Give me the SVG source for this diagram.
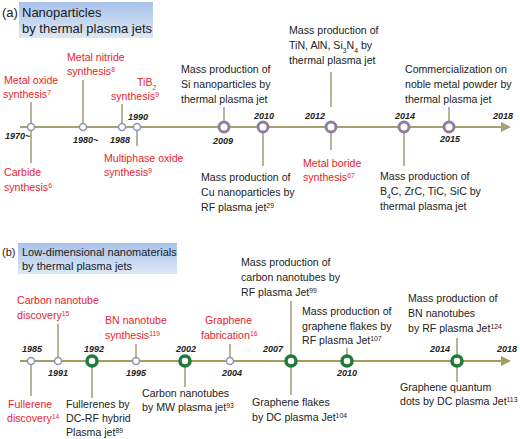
<svg xmlns="http://www.w3.org/2000/svg" width="520" height="439" viewBox="0 0 520 439">
<defs>
<linearGradient id="tg" x1="0" y1="0" x2="0" y2="1">
<stop offset="0" stop-color="#a8c2ea"/>
<stop offset="1" stop-color="#dde8f6"/>
</linearGradient>
<marker id="arrA" viewBox="0 0 10 10" refX="2" refY="5" markerWidth="5" markerHeight="5" orient="auto">
<path d="M0,0 L10,5 L0,10 z" fill="#a89f72"/>
</marker>
<marker id="arrB" viewBox="0 0 10 10" refX="2" refY="5" markerWidth="5" markerHeight="5" orient="auto">
<path d="M0,0 L10,5 L0,10 z" fill="#a39d5e"/>
</marker>
</defs>
<style>
text{font-family:"Liberation Sans",Arial,sans-serif;font-size:10.6px;fill:#222}
.r{fill:#e8232b}
.t{font-size:13px;fill:#1a1a1a}
.tb{font-size:11px;fill:#1a1a1a}
.y{font-size:9px;font-weight:bold;font-style:italic;fill:#222}
.sup{font-size:6.8px;baseline-shift:super}
.sub{font-size:6.8px;baseline-shift:sub}
.ax{stroke-width:2;fill:none}
.vc{stroke:#a8a07f;stroke-width:1.6;fill:none}
.sm{fill:#fff;stroke:#8a95b0;stroke-width:1.5}
.bp{fill:#fff;stroke:#8f7f9d;stroke-width:3}
.bg{fill:#fff;stroke:#1f7a3a;stroke-width:3.5}
</style>

<g id="title-a">
<rect x="19" y="2" width="134" height="36" fill="url(#tg)"/>
<text class="t" x="2" y="17">(a)</text>
<text class="t" x="22" y="17">Nanoparticles</text>
<text class="t" x="22" y="33">by thermal plasma jets</text>
</g>
<g id="title-b">
<rect x="18" y="243" width="159" height="31" fill="url(#tg)"/>
<text class="tb" x="2" y="256">(b)</text>
<text class="tb" x="22" y="256">Low-dimensional nanomaterials</text>
<text class="tb" x="22" y="270">by thermal plasma jets</text>
</g>

<g id="connectors">
<line class="ax" x1="20" y1="127" x2="503" y2="127" stroke="#a89f72" marker-end="url(#arrA)"/>
<line class="ax" x1="20" y1="361" x2="503" y2="361" stroke="#a39d5e" marker-end="url(#arrB)"/>
<line class="vc" x1="31" y1="102" x2="31" y2="124"/>
<line class="vc" x1="83" y1="80" x2="83" y2="124"/>
<line class="vc" x1="122" y1="104" x2="122" y2="124"/>
<line class="vc" x1="224" y1="107" x2="224" y2="122"/>
<line class="vc" x1="331" y1="72" x2="331" y2="107"/>
<line class="vc" x1="449" y1="107" x2="449" y2="122"/>
<line class="vc" x1="31" y1="130" x2="31" y2="163"/>
<line class="vc" x1="137" y1="130" x2="137" y2="146"/>
<line class="vc" x1="263" y1="132" x2="263" y2="166"/>
<line class="vc" x1="331" y1="132" x2="331" y2="150"/>
<line class="vc" x1="404" y1="132" x2="404" y2="166"/>
<line class="vc" x1="58" y1="324" x2="58" y2="358"/>
<line class="vc" x1="136" y1="344" x2="136" y2="358"/>
<line class="vc" x1="230" y1="344" x2="230" y2="358"/>
<line class="vc" x1="291" y1="301" x2="291" y2="355"/>
<line class="vc" x1="347" y1="348" x2="347" y2="356"/>
<line class="vc" x1="457" y1="338" x2="457" y2="355"/>
<line class="vc" x1="31" y1="364" x2="31" y2="396"/>
<line class="vc" x1="92" y1="367" x2="92" y2="398"/>
<line class="vc" x1="185" y1="367" x2="185" y2="387"/>
<line class="vc" x1="291" y1="367" x2="291" y2="395"/>
<line class="vc" x1="457" y1="367" x2="457" y2="382"/>
</g>

<g id="a1970">
<circle class="sm" cx="31" cy="127" r="3.5"/>
<text class="y" x="5" y="139">1970~</text>
<text class="r" x="4" y="84">Metal oxide</text>
<text class="r" x="3" y="98">synthesis<tspan class="sup">7</tspan></text>
<text class="r" x="4" y="176">Carbide</text>
<text class="r" x="4" y="191">synthesis<tspan class="sup">6</tspan></text>
</g>
<g id="a1980">
<circle class="sm" cx="83" cy="127" r="3.5"/>
<text class="y" x="73" y="143">1980~</text>
<text class="r" x="67" y="61">Metal nitride</text>
<text class="r" x="67" y="75">synthesis<tspan class="sup">8</tspan></text>
</g>
<g id="a1988">
<circle class="sm" cx="122" cy="127" r="3.5"/>
<text class="y" x="110" y="143">1988</text>
<text class="r" x="137" y="86">TiB<tspan class="sub">2</tspan></text>
<text class="r" x="111" y="100">synthesis<tspan class="sup">9</tspan></text>
</g>
<g id="a1990">
<circle class="sm" cx="137" cy="127" r="3.5"/>
<text class="y" x="128" y="120">1990</text>
<text class="r" x="104" y="162">Multiphase oxide</text>
<text class="r" x="104" y="176">synthesis<tspan class="sup">9</tspan></text>
</g>
<g id="a2009">
<circle class="bp" cx="224" cy="127" r="5"/>
<text class="y" x="213" y="144">2009</text>
<text x="181" y="73">Mass production of</text>
<text x="181" y="88">Si nanoparticles by</text>
<text x="181" y="103">thermal plasma jet</text>
</g>
<g id="a2010">
<circle class="bp" cx="263" cy="127" r="5"/>
<text class="y" x="254" y="119">2010</text>
<text x="201" y="181">Mass production of</text>
<text x="201" y="196">Cu nanoparticles by</text>
<text x="201" y="211">RF plasma jet<tspan class="sup">29</tspan></text>
</g>
<g id="a2012">
<circle class="bp" cx="331" cy="127" r="5"/>
<text class="y" x="305" y="119">2012</text>
<text x="289" y="34">Mass production of</text>
<text x="289" y="49">TiN, AlN, Si<tspan class="sub">3</tspan><tspan>N</tspan><tspan class="sub">4</tspan><tspan> by</tspan></text>
<text x="289" y="64">thermal plasma jet</text>
<text class="r" x="303" y="167">Metal boride</text>
<text class="r" x="303" y="181">synthesis<tspan class="sup">67</tspan></text>
</g>
<g id="a2014">
<circle class="bp" cx="404" cy="127" r="5"/>
<text class="y" x="395" y="119">2014</text>
<text x="380" y="180">Mass production of</text>
<text x="380" y="195">B<tspan class="sub">4</tspan><tspan>C, ZrC, TiC, SiC by</tspan></text>
<text x="380" y="210">thermal plasma jet</text>
</g>
<g id="a2015">
<circle class="bp" cx="449" cy="127" r="5"/>
<text class="y" x="440" y="142">2015</text>
<text x="405" y="73">Commercialization on</text>
<text x="405" y="88">noble metal powder by</text>
<text x="405" y="103">thermal plasma jet</text>
</g>
<g id="a2018">
<text class="y" x="493" y="119">2018</text>
</g>

<g id="b1985">
<circle class="sm" cx="31" cy="361" r="3.5"/>
<text class="y" x="22" y="352">1985</text>
<text class="r" x="8" y="408">Fullerene</text>
<text class="r" x="7" y="422">discovery<tspan class="sup">14</tspan></text>
</g>
<g id="b1991">
<circle class="sm" cx="58" cy="361" r="3.5"/>
<text class="y" x="48" y="376">1991</text>
<text class="r" x="17" y="304">Carbon nanotube</text>
<text class="r" x="17" y="319">discovery<tspan class="sup">15</tspan></text>
</g>
<g id="b1992">
<circle class="bg" cx="92" cy="361" r="5"/>
<text class="y" x="84" y="352">1992</text>
<text x="66" y="408">Fullerenes by</text>
<text x="66" y="422">DC-RF hybrid</text>
<text x="66" y="436">Plasma jet<tspan class="sup">89</tspan></text>
</g>
<g id="b1995">
<circle class="sm" cx="136" cy="361" r="3.5"/>
<text class="y" x="126" y="376">1995</text>
<text class="r" x="105" y="324">BN nanotube</text>
<text class="r" x="105" y="339">synthesis<tspan class="sup">119</tspan></text>
</g>
<g id="b2002">
<circle class="bg" cx="185" cy="361" r="5"/>
<text class="y" x="176" y="352">2002</text>
<text x="142" y="397">Carbon nanotubes</text>
<text x="142" y="411">by MW plasma jet<tspan class="sup">93</tspan></text>
</g>
<g id="b2004">
<circle class="sm" cx="230" cy="361" r="3.5"/>
<text class="y" x="222" y="376">2004</text>
<text class="r" x="205" y="324">Graphene</text>
<text class="r" x="201" y="339">fabrication<tspan class="sup">16</tspan></text>
</g>
<g id="b2007">
<circle class="bg" cx="291" cy="361" r="5"/>
<text class="y" x="263" y="352">2007</text>
<text x="241" y="266">Mass production of</text>
<text x="241" y="281">carbon nanotubes by</text>
<text x="241" y="296">RF plasma Jet<tspan class="sup">99</tspan></text>
<text x="252" y="406">Graphene flakes</text>
<text x="252" y="421">by DC plasma Jet<tspan class="sup">104</tspan></text>
</g>
<g id="b2010">
<circle class="bg" cx="347" cy="361" r="5"/>
<text class="y" x="337" y="376">2010</text>
<text x="302" y="315">Mass production of</text>
<text x="302" y="330">graphene flakes by</text>
<text x="302" y="344">RF plasma Jet<tspan class="sup">107</tspan></text>
</g>
<g id="b2014">
<circle class="bg" cx="457" cy="361" r="5"/>
<text class="y" x="430" y="352">2014</text>
<text x="408" y="302">Mass production of</text>
<text x="408" y="317">BN nanotubes</text>
<text x="408" y="332">by RF plasma Jet<tspan class="sup">124</tspan></text>
<text x="400" y="391">Graphene quantum</text>
<text x="400" y="405">dots by DC plasma Jet<tspan class="sup">113</tspan></text>
</g>
<g id="b2018">
<text class="y" x="497" y="352">2018</text>
</g>
</svg>
